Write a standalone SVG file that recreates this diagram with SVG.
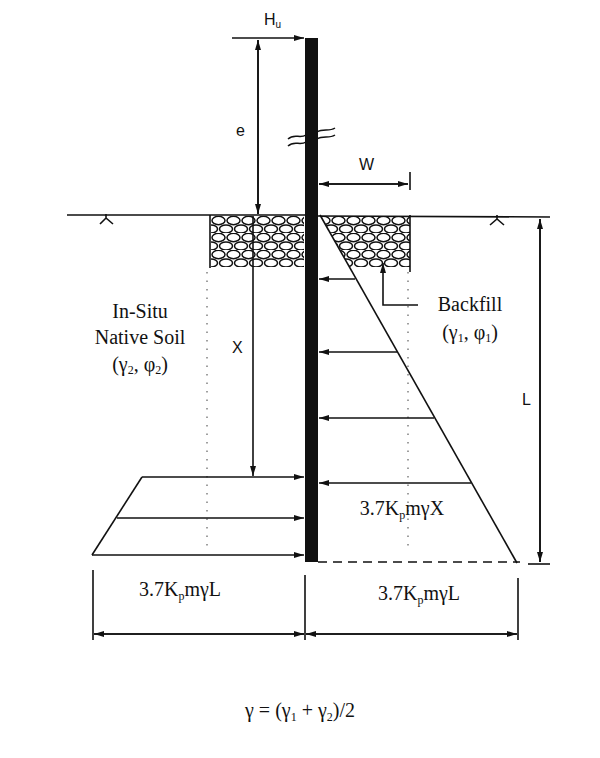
<svg xmlns="http://www.w3.org/2000/svg" width="600" height="758" viewBox="0 0 600 758">
<style>
.l{stroke:#111;stroke-width:1.6;fill:none}
.d{stroke:#888;stroke-width:1.6;stroke-dasharray:1.5 7;fill:none}
.t{font-family:"Liberation Serif",serif;font-size:20px;fill:#111}
.s{font-family:"Liberation Sans",sans-serif;font-size:16px;fill:#111}
</style>
<defs>
<marker id="a" viewBox="0 0 10 6" refX="10" refY="3" markerWidth="10" markerHeight="6" markerUnits="userSpaceOnUse" orient="auto"><path d="M0,0L10,3L0,6z" fill="#111"/></marker>
<pattern id="peb" x="211" y="216" width="30" height="17" patternUnits="userSpaceOnUse">
<g fill="none" stroke="#111" stroke-width="1.5">
<ellipse cx="7.5" cy="4.5" rx="6.5" ry="4.2"/><ellipse cx="22.5" cy="4.5" rx="6.5" ry="4.2"/>
<ellipse cx="0" cy="13" rx="6.5" ry="4"/><ellipse cx="15" cy="13" rx="6.5" ry="4"/><ellipse cx="30" cy="13" rx="6.5" ry="4"/>
</g></pattern>
<clipPath id="rc"><polygon points="320,215 410,215 410,268 350,268"/></clipPath>
</defs>
<rect width="600" height="758" fill="#fff"/>
<g id="gravel">
<rect x="211" y="216" width="93" height="51" fill="url(#peb)"/>
<path class="l" d="M210,215V268"/>
<rect x="320" y="216" width="90" height="51" fill="url(#peb)" clip-path="url(#rc)"/>
<path class="l" d="M410,215V272"/>
</g>
<g id="dotted">
<path class="d" d="M207,272V548"/><path class="d" d="M408,272V548"/>
</g>
<g id="ground">
<path class="l" d="M67,215H305M318,216L550,217"/>
<path class="l" d="M100,224L106,218L113,224M106,218V214"/>
<path class="l" d="M490,225L497,219L504,225M497,219V215"/>
</g>
<g id="pile">
<rect x="305" y="38" width="13" height="524" fill="#111"/>
<path d="M288,139C294,133 300,139 306,135M288,146C294,140 300,146 306,142M317,132C323,128 329,132 335,128M317,139C323,135 329,139 335,135" stroke="#111" stroke-width="1.5" fill="none"/>
</g>
<g id="connectors">
<path class="l" d="M232,38H304" marker-end="url(#a)"/>
<path class="l" d="M258,214V40" marker-end="url(#a)"/>
<path class="l" d="M258,40V214" marker-end="url(#a)"/>
<path class="l" d="M408,184H319" marker-end="url(#a)"/>
<path class="l" d="M319,184H408" marker-end="url(#a)"/>
<path class="l" d="M410,172V190"/>
<path class="l" d="M320,215L517,563"/>
<path class="l" d="M355,279H319" marker-end="url(#a)"/>
<path class="l" d="M397,352H319" marker-end="url(#a)"/>
<path class="l" d="M434,418H319" marker-end="url(#a)"/>
<path class="l" d="M471,483H319" marker-end="url(#a)"/>
<path class="l" d="M318,562H520" stroke-dasharray="9 6"/>
<path class="l" d="M383,292V263" marker-end="url(#a)"/>
<path class="l" d="M383,292V305H418"/>
<path class="l" d="M142,477H304" marker-end="url(#a)"/>
<path class="l" d="M117,518H304" marker-end="url(#a)"/>
<path class="l" d="M92,555H304" marker-end="url(#a)"/>
<path class="l" d="M142,477L92,555"/>
<path class="l" d="M253,216V476" marker-end="url(#a)"/>
<path class="l" d="M540,562V219" marker-end="url(#a)"/>
<path class="l" d="M540,219V562" marker-end="url(#a)"/>
<path class="l" d="M528,564H550"/>
<path class="l" d="M93,570V640M305,575V640M518,578V640"/>
<path class="l" d="M304,634H94" marker-end="url(#a)"/>
<path class="l" d="M94,634H304" marker-end="url(#a)"/>
<path class="l" d="M306,634H517" marker-end="url(#a)"/>
<path class="l" d="M517,634H306" marker-end="url(#a)"/>
</g>
<g id="labels">
<text class="s" x="264" y="25">H<tspan font-size="10" dy="3">u</tspan></text>
<text class="s" x="236" y="136">e</text>
<text class="s" x="359" y="170">W</text>
<text class="s" x="232" y="353">X</text>
<text class="s" x="522" y="405">L</text>
<text class="t" text-anchor="middle"><tspan x="140" y="318">In-Situ</tspan><tspan x="140" y="344">Native Soil</tspan><tspan x="140" y="371">(γ<tspan font-size="12" dy="3">2</tspan><tspan dy="-3">, φ</tspan><tspan font-size="12" dy="3">2</tspan><tspan dy="-3">)</tspan></tspan></text>
<text class="t" text-anchor="middle"><tspan x="470" y="311">Backfill</tspan><tspan x="470" y="339">(γ<tspan font-size="12" dy="3">1</tspan><tspan dy="-3">, φ</tspan><tspan font-size="12" dy="3">1</tspan><tspan dy="-3">)</tspan></tspan></text>
<text class="t" x="402" y="515" text-anchor="middle">3.7K<tspan font-size="12" dy="4">p</tspan><tspan dy="-4">mγX</tspan></text>
<text class="t" x="180" y="596" text-anchor="middle">3.7K<tspan font-size="12" dy="4">p</tspan><tspan dy="-4">mγL</tspan></text>
<text class="t" x="419" y="600" text-anchor="middle">3.7K<tspan font-size="12" dy="4">p</tspan><tspan dy="-4">mγL</tspan></text>
<text class="t" x="300" y="717" text-anchor="middle">γ = (γ<tspan font-size="12" dy="4">1</tspan><tspan dy="-4"> +  γ</tspan><tspan font-size="12" dy="4">2</tspan><tspan dy="-4">)/2</tspan></text>
</g>
</svg>
